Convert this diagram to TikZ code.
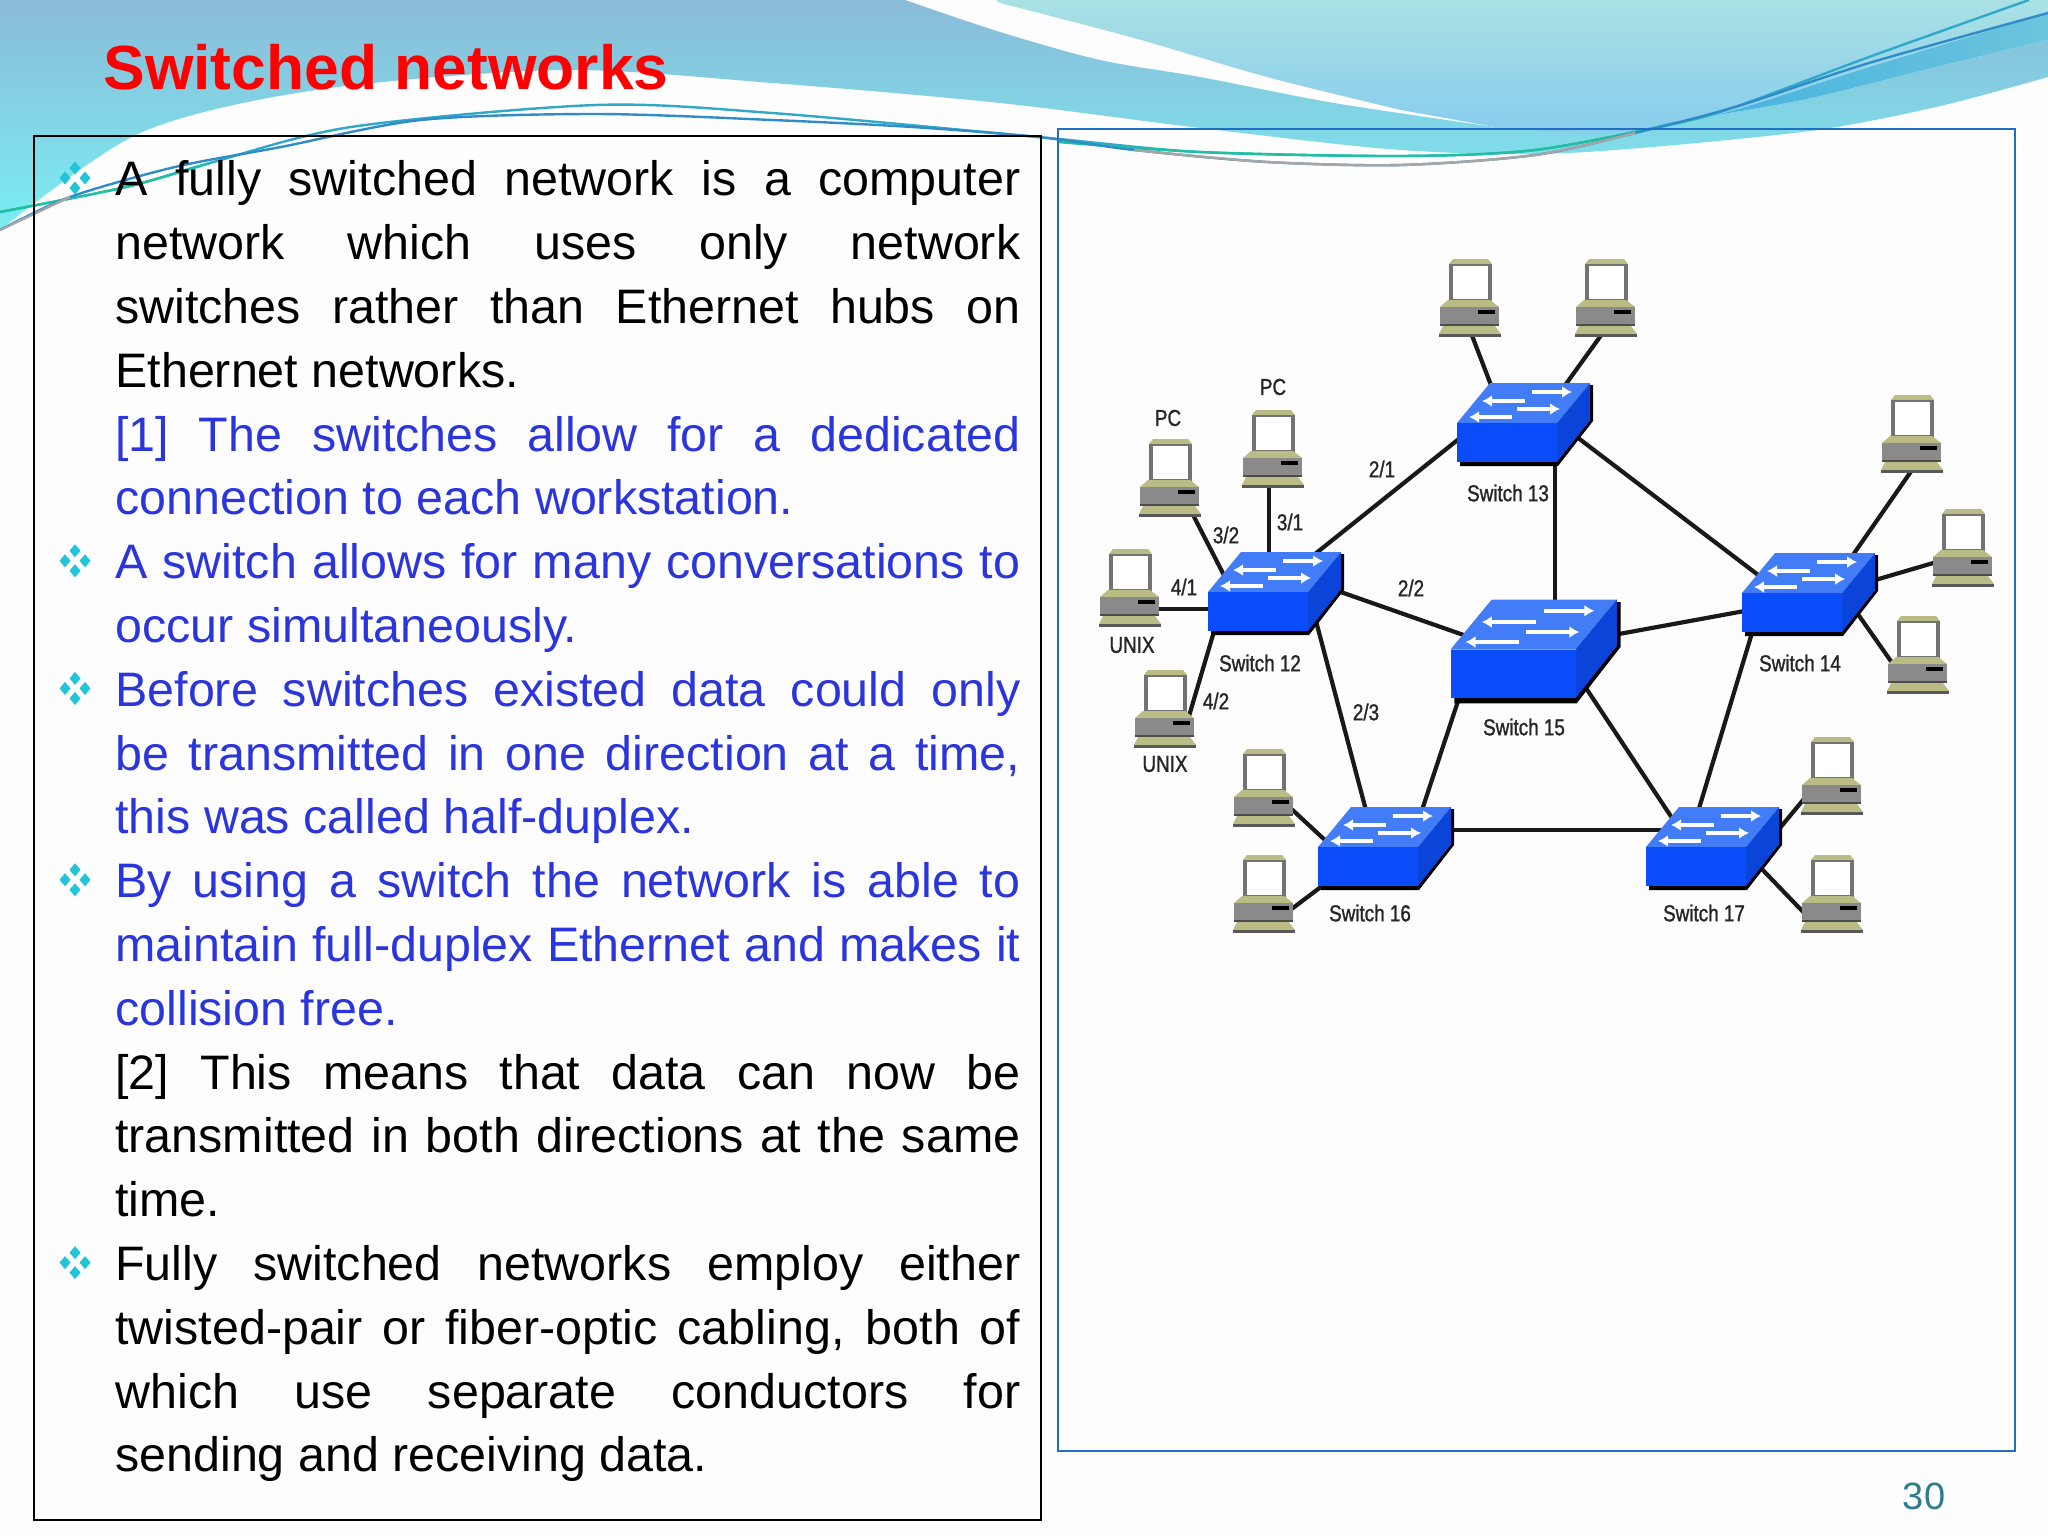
\documentclass[tikz,border=0pt]{standalone}
\usepackage{fontspec}
\setmainfont{Liberation Sans}
\newfontfamily\tagfont[FakeStretch=0.82,FakeBold=1.2]{Liberation Sans}
\usetikzlibrary{arrows.meta,calc}
\pgfdeclarelayer{backdrop}
\pgfdeclarelayer{links}
\pgfsetlayers{backdrop,links,main}
\definecolor{pagewhite}{HTML}{FDFDFE}
\definecolor{textblue}{HTML}{2B35DC}
\definecolor{framblue}{HTML}{1F6FC4}
\definecolor{bulletcyan}{HTML}{22C4D8}
\definecolor{swfront}{HTML}{0A4CFA}
\definecolor{swtop}{HTML}{427CF6}
\definecolor{swside}{HTML}{0A44D8}
\definecolor{pcolive}{HTML}{B9BC85}
\definecolor{pcgrey}{HTML}{8A8A8A}
\definecolor{numteal}{HTML}{2E7C8C}
\definecolor{wavetop}{HTML}{8ABBD8}
\definecolor{wavemid}{HTML}{7FC8E0}
\definecolor{wavelow}{HTML}{7AEEF2}
\definecolor{bowltop}{HTML}{A9E1E4}
\definecolor{bowllow}{HTML}{87CCEE}
\definecolor{bandleft}{HTML}{3FB0E0}
\definecolor{bandright}{HTML}{6CC4DC}
\definecolor{lineteal}{HTML}{30A8C8}
\definecolor{linegreen}{HTML}{20C0A0}
\definecolor{lineblue}{HTML}{308CC8}
\tikzset{
  link/.style={line width=2.1pt,black!90},
  swarrow/.style={white,line width=1.9pt,-{Latex[length=5pt,width=6pt]}},
  tag/.style={font=\tagfont\fontsize{11.5}{13}\selectfont,text=black!85,inner sep=0pt},
  swave/.style={line width=1.2pt,smooth},
  switchbox/.pic={
    \coordinate (-c) at (0,0);
    \begin{scope}[shift={(-66,-2)}]
      \fill[black] (3,38) -- (100,38) -- (133,-3) -- (133,-38) -- (136,-38) -- (136,-2) -- (101,43) -- (3,43) -- cycle;
      \fill[swtop] (0,0) -- (33,-40) -- (133,-40) -- (100,0) -- cycle;
      \fill[swside] (100,0) -- (133,-40) -- (133,-3) -- (100,39) -- cycle;
      \fill[swfront] (0,0) rectangle (100,39);
      \draw[swarrow] (75,-31) -- (115,-31);
      \draw[swarrow] (68,-22) -- (25,-22);
      \draw[swarrow] (60,-14) -- (103,-14);
      \draw[swarrow] (55,-6) -- (12,-6);
    \end{scope}
  },
  pcbox/.pic={
    \coordinate (-c) at (0,0);
    \fill[pcolive] (-17,-78) -- (18,-78) -- (22,-73) -- (-21,-73) -- cycle;
    \fill[black!55] (-21,-73) rectangle (22,-35);
    \fill[white] (-17,-71) rectangle (18,-38);
    \fill[pcolive] (-22,-37) -- (20,-37) -- (29,-30) -- (-30,-30) -- cycle;
    \fill[pcgrey] (-30,-30) rectangle (29,-12);
    \fill[black!70] (-30,-13) rectangle (29,-11);
    \fill[black] (8,-27) rectangle (25,-23);
    \fill[pcolive] (-27,-11) -- (25,-11) -- (31,-3) -- (-31,-3) -- cycle;
    \fill[black!65] (-31,-3) rectangle (31,0);
  },
  bulletmark/.pic={
    \foreach \dx/\dy in {-10/0,10/0,0/-10,0/10}
      \fill[bulletcyan,shift={(\dx,\dy)}] (-5.5,0) -- (0,-6.5) -- (5.5,0) -- (0,6.5) -- cycle;
  }
}
\begin{document}
\begin{tikzpicture}[x=0.5pt,y=-0.5pt]
\useasboundingbox (0,0) rectangle (2048,1536);
\begin{pgfonlayer}{backdrop}
\fill[pagewhite] (0,0) rectangle (2048,1536);
\shade[top color=wavetop,middle color=wavemid,bottom color=wavelow]
  (0,0) -- plot[smooth] coordinates {(905,0) (1000,32) (1100,60) (1200,77) (1334,103) (1495,127)}
  -- plot[smooth] coordinates {(1668,123) (1802,100) (1936,67) (2048,40)}
  -- plot[smooth] coordinates {(2048,77) (1936,107) (1802,132) (1568,153) (1401,150) (1200,128) (1000,103) (772,83) (561,70) (316,90) (140,133) (0,230)} -- cycle;
\shade[top color=bowltop,bottom color=bowllow]
  (996,0) -- (2048,0)
  -- plot[smooth] coordinates {(2048,13) (1869,67) (1735,110) (1635,132) (1568,133) (1495,127)}
  -- plot[smooth] coordinates {(1401,110) (1267,77) (1134,38) (1000,3)} -- cycle;
\shade[left color=bandleft,right color=bandright]
  plot[smooth] coordinates {(2048,13) (1869,67) (1735,110) (1640,131)}
  -- plot[smooth] coordinates {(1668,123) (1802,100) (1936,67) (2048,40)} -- cycle;
% thin lines
\draw[swave,color=lineteal] plot[smooth] coordinates {(0,212) (126,187) (210,163) (351,127) (596,105) (772,113) (1038,137) (1200,152) (1401,156) (1535,150) (1668,125) (1735,107) (1869,57) (2029,0)};
\draw[swave,color=linegreen] plot[smooth] coordinates {(1058,142) (1200,152) (1401,156) (1535,150) (1668,125) (1710,115)};
\draw[swave,color=linegreen] plot[smooth] coordinates {(0,212) (126,187) (210,163)};
\draw[swave,color=lineblue] plot[smooth] coordinates {(0,230) (70,197) (175,167) (281,147) (421,120) (596,114) (772,120) (912,127) (1038,137) (1134,150) (1267,162) (1401,165) (1535,155) (1635,133) (1735,107) (1869,63) (2048,13)};
\draw[swave,color=black!35] plot[smooth] coordinates {(1134,150) (1267,162) (1401,165) (1535,155) (1635,133)};
\draw[swave,color=black!35] plot[smooth] coordinates {(0,230) (70,197)};
\end{pgfonlayer}
% title and frames
\node[anchor=base west,inner sep=0pt,font=\bfseries\fontsize{31.2}{36}\selectfont,text=red] (title) at (103,90) {Switched networks};
\node[draw=black,line width=1pt,inner sep=0pt,outer sep=0pt,minimum width=503.7pt,minimum height=692pt,anchor=north west] (textframe) at (34,136) {};
\node[draw=framblue,line width=1pt,inner sep=0pt,outer sep=0pt,minimum width=478.5pt,minimum height=661pt,anchor=north west] (diagframe) at (1058,129) {};
% body text
\node[anchor=north west,inner sep=0pt,text width=452.5pt,align=justify,font=\fontsize{24.2}{31.9}\selectfont] (bodytext) at (115,160.5) {
A fully switched network is a computer\linebreak
network which uses only network\linebreak
switches rather than Ethernet hubs on\linebreak
Ethernet networks.\par
\color{textblue}
[1] The switches allow for a dedicated\linebreak
connection to each workstation.\par
A switch allows for many conversations to\linebreak
occur simultaneously.\par
Before switches existed data could only\linebreak
be transmitted in one direction at a time,\linebreak
this was called half-duplex.\par
By using a switch the network is able to\linebreak
maintain full-duplex Ethernet and makes it\linebreak
collision free.\par
\color{black}
[2] This means that data can now be\linebreak
transmitted in both directions at the same\linebreak
time.\par
Fully switched networks employ either\linebreak
twisted-pair or fiber-optic cabling, both of\linebreak
which use separate conductors for\linebreak
sending and receiving data.};
\foreach \n in {1,7,9,12,18}
  \pic at (75,{178+63.8*(\n-1)}) {bulletmark};
\node[anchor=base,inner sep=0pt,font=\fontsize{19}{22}\selectfont,text=numteal] (pagenum) at (1924,1509) {30};
% switches
\pic (sw12) at (1274,594) {switchbox};
\pic (sw13) at (1523,425) {switchbox};
\pic (sw14) at (1808,595) {switchbox};
\pic[scale=1.25] (sw15) at (1533,652) {switchbox};
\pic (sw16) at (1384,849) {switchbox};
\pic (sw17) at (1712,849) {switchbox};
% computers
\pic (pc1) at (1470,337) {pcbox};
\pic (pc2) at (1606,337) {pcbox};
\pic (pc3) at (1170,517) {pcbox};
\pic (pc4) at (1273,488) {pcbox};
\pic (pc5) at (1130,627) {pcbox};
\pic (pc6) at (1165,748) {pcbox};
\pic (pc7) at (1912,473) {pcbox};
\pic (pc8) at (1963,587) {pcbox};
\pic (pc9) at (1918,694) {pcbox};
\pic (pc10) at (1832,815) {pcbox};
\pic (pc11) at (1832,933) {pcbox};
\pic (pc12) at (1264,827) {pcbox};
\pic (pc13) at (1264,933) {pcbox};
% connectors
\begin{pgfonlayer}{links}
\foreach \a/\ax/\ay/\b/\bx/\by in {
  pc1/1/-4/sw13/-29/-32, pc2/-4/-3/sw13/35/-30, pc4/-4/-3/sw12/-5/-34,
  pc3/20/-8/sw12/-44/-7, pc5/25/-18/sw12/-59/15, pc6/24/-32/sw12/-59/34,
  sw12/36/-36/sw13/-58/9, sw12/61/-4/sw15/-58/-13, sw12/38/12/sw16/-16/-31,
  sw13/32/30/sw15/22/-48, sw13/42/3/sw14/-38/-11, sw15/75/-16/sw14/-58/15,
  sw15/47/27/sw17/-36/-25, sw15/-71/37/sw16/36/-33, sw14/-53/28/sw17/-15/-34,
  sw16/56/-19/sw17/-32/-19, pc7/0/-3/sw14/40/-33, pc8/-23/-26/sw14/57/-12,
  pc9/-23/-27/sw14/47/15, pc10/-24/-21/sw17/58/-9, pc11/-24/-16/sw17/45/15,
  pc12/21/-24/sw16/-44/5, pc13/21/-19/sw16/-54/31}
  \draw[link] ($(\a-c)+(\ax,\ay)$) -- ($(\b-c)+(\bx,\by)$);
\end{pgfonlayer}
% labels
\node[tag] (lbpc3) at (1168,418) {PC};
\node[tag] (lbpc4) at (1273,387) {PC};
\node[tag] (lbunix1) at (1132,645) {UNIX};
\node[tag] (lbunix2) at (1165,764) {UNIX};
\node[tag] (lb32) at (1226,535) {3/2};
\node[tag] (lb31) at (1290,522) {3/1};
\node[tag] (lb41) at (1184,587) {4/1};
\node[tag] (lb42) at (1216,701) {4/2};
\node[tag] (lb21) at (1382,469) {2/1};
\node[tag] (lb22) at (1411,588) {2/2};
\node[tag] (lb23) at (1366,712) {2/3};
\node[tag] (lbsw12) at (1260,663) {Switch 12};
\node[tag] (lbsw13) at (1508,493) {Switch 13};
\node[tag] (lbsw14) at (1800,663) {Switch 14};
\node[tag] (lbsw15) at (1524,727) {Switch 15};
\node[tag] (lbsw16) at (1370,913) {Switch 16};
\node[tag] (lbsw17) at (1704,913) {Switch 17};
\end{tikzpicture}
\end{document}
